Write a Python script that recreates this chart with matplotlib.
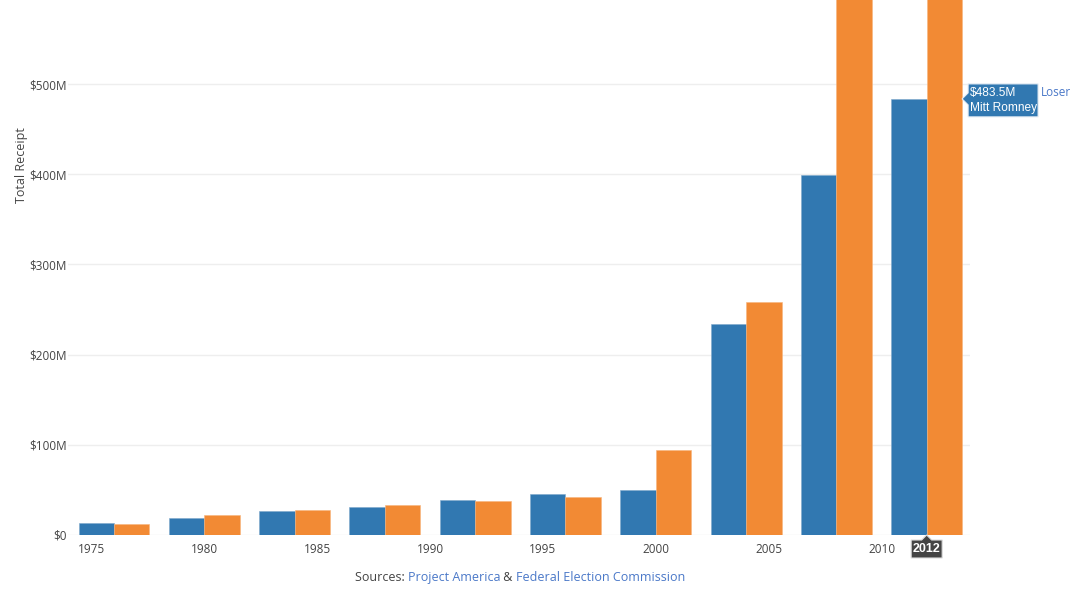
import matplotlib
matplotlib.use("Agg")
import matplotlib.pyplot as plt
from matplotlib.patches import Polygon
from matplotlib.transforms import IdentityTransform
import numpy as np

# Election years and total receipts (millions of dollars)
years = [1976, 1980, 1984, 1988, 1992, 1996, 2000, 2004, 2008, 2012]
loser = [13.6, 18.8, 26.6, 31.0, 38.4, 45.1, 49.5, 233.9, 399.0, 483.5]
winner = [12.5, 21.8, 27.4, 33.3, 37.7, 42.5, 94.2, 258.3, 745.7, 715.7]
x_ticks = [1975, 1980, 1985, 1990, 1995, 2000, 2005, 2010]
y_ticks = [0, 100, 200, 300, 400, 500]
y_labels = ["$0", "$100M", "$200M", "$300M", "$400M", "$500M"]

BLUE = "#3178b1"
ORANGE = "#f28a34"
TXT = "#444444"
LINK = "#4a78c8"

W, H = 1075, 603
fig = plt.figure(figsize=(W / 100, H / 100), dpi=100)
fig.patch.set_facecolor("white")

# plot area in pixels (top-left origin): x 68..970, y 0..535
ax = fig.add_axes([68 / W, (H - 535) / H, (970 - 68) / W, 535 / H])
ax.set_xlim(1973.96, 2013.92)
ax.set_ylim(0, 535 / 0.902)

bw = 1.57
yrs = np.array(years)
ax.bar(yrs - bw / 2, loser, width=bw, color=BLUE, edgecolor="#7fa9cc", linewidth=0.4, zorder=2)
ax.bar(yrs + bw / 2, winner, width=bw, color=ORANGE, edgecolor="#f7b47d", linewidth=0.4, zorder=2)

ax.set_yticks(y_ticks)
ax.set_yticklabels(y_labels)
ax.set_xticks(x_ticks)
ax.set_xticklabels([str(t) for t in x_ticks])
ax.grid(axis="y", color="#eeeeee", linewidth=1, zorder=0)
ax.tick_params(length=0, colors=TXT, labelsize=8.5)
ax.tick_params(axis="x", pad=6)
ax.tick_params(axis="y", pad=1)
for lab in ax.get_xticklabels() + ax.get_yticklabels():
    lab.set_fontfamily("Open Sans")
for s in ax.spines.values():
    s.set_visible(False)

idt = IdentityTransform()

def px(x, y):
    return x, H - y

fig.text(*px(22, 165), "Total Receipt", rotation=90, ha="center", va="center",
         color=TXT, fontsize=9, family="Open Sans", transform=idt)

fig.canvas.draw()
r = fig.canvas.get_renderer()

# hover label for 2012 loser
tip = ax.transData.transform((2012 + bw, 483.5))
tx, ty = tip
box = Polygon([(tx, ty), (tx + 6, ty + 6), (tx + 6, ty + 15), (tx + 76, ty + 15),
               (tx + 76, ty - 18), (tx + 6, ty - 18), (tx + 6, ty - 6)],
              closed=True, facecolor=BLUE, edgecolor="#e8eef5", linewidth=0.8,
              transform=idt, zorder=5)
fig.add_artist(box)
fig.text(tx + 8, ty + 6, "$483.5M", color="white", fontsize=8.6, family="Liberation Sans",
         ha="left", va="center", transform=idt, zorder=6)
fig.text(tx + 8, ty - 9, "Mitt Romney", color="white", fontsize=8.6, family="Liberation Sans",
         ha="left", va="center", transform=idt, zorder=6)
fig.text(*px(1041, 92), "Loser", color=LINK, fontsize=8.5, family="Open Sans",
         ha="left", va="center", transform=idt)

# x hover label
xt = ax.transData.transform((2012, 0))
bx, by = xt
box2 = Polygon([(bx, by), (bx + 5, by - 5), (bx + 15.5, by - 5), (bx + 15.5, by - 23),
                (bx - 15.5, by - 23), (bx - 15.5, by - 5), (bx - 5, by - 5)],
               closed=True, facecolor="#444444", edgecolor="#dddddd", linewidth=0.8,
               transform=idt, zorder=5)
fig.add_artist(box2)
fig.text(bx, by - 14, "2012", color="white", fontsize=9, family="Liberation Sans",
         fontweight="bold", ha="center", va="center", transform=idt, zorder=6)

# sources line with coloured links
parts = [("Sources: ", TXT), ("Project America", LINK), (" & ", TXT),
         ("Federal Election Commission", LINK)]
texts = []
for s, c in parts:
    t = fig.text(0, H - 581, s, color=c, fontsize=9, family="Open Sans",
                 ha="left", va="baseline", transform=idt)
    texts.append(t)
widths = [t.get_window_extent(r).width for t in texts]
x0 = 520 - sum(widths) / 2
for t, w in zip(texts, widths):
    t.set_x(x0)
    x0 += w

fig.savefig("out.png", dpi=100)
